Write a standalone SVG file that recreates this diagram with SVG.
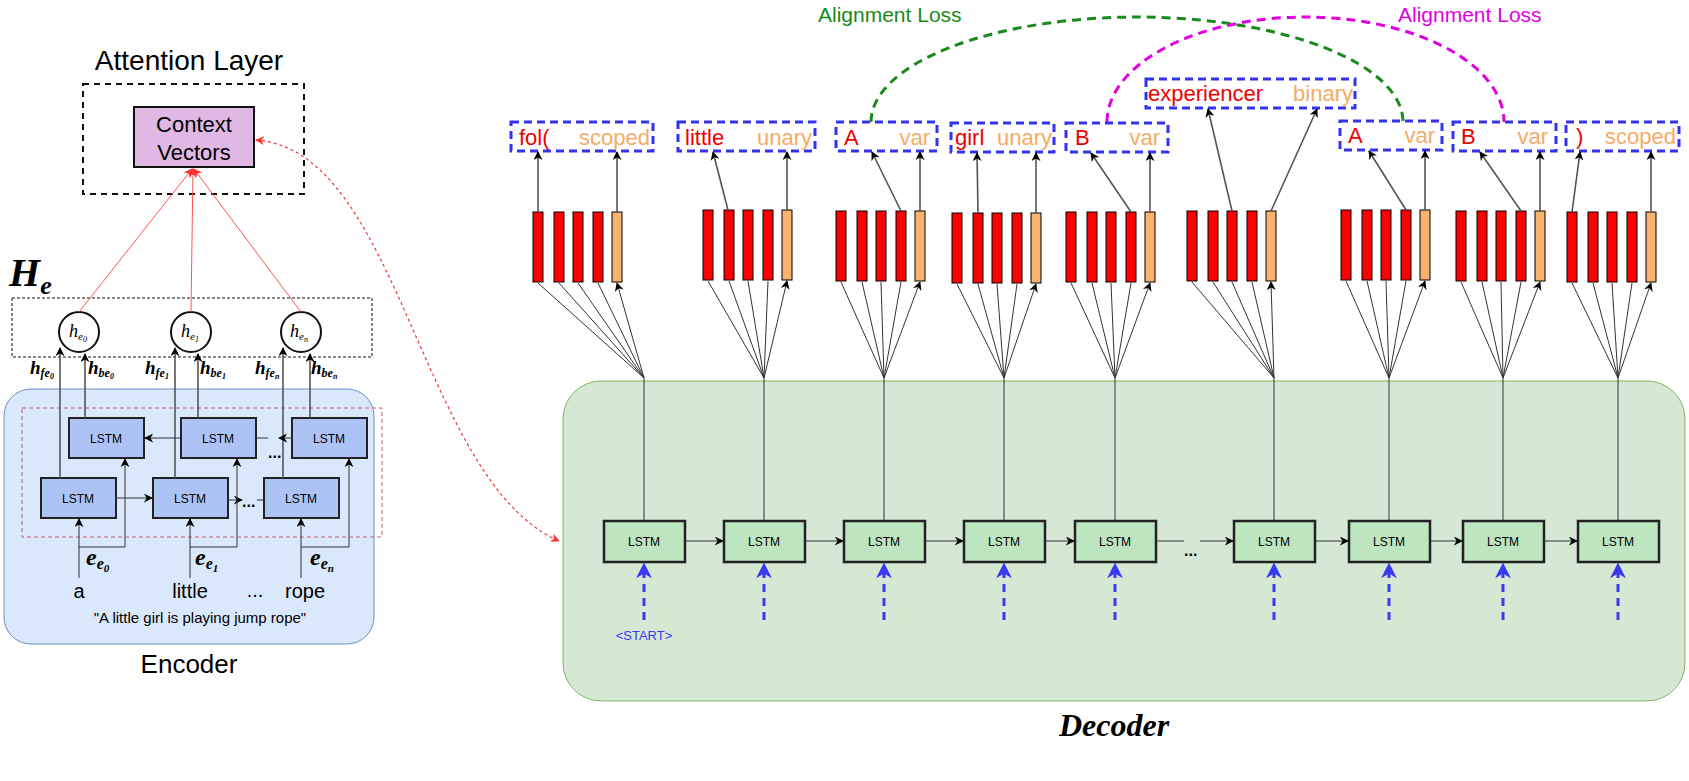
<svg xmlns="http://www.w3.org/2000/svg" width="1689" height="781" viewBox="0 0 1689 781">
<style>
.sans{font-family:"Liberation Sans",Arial,sans-serif}
.ser{font-family:"Liberation Serif","Times New Roman",serif;font-style:italic}
.elstm{fill:#adc3f5;stroke:#222;stroke-width:2}
.dlstm{fill:#bde5c0;stroke:#222;stroke-width:2.5}
.lt{font-family:"Liberation Sans",Arial,sans-serif;font-size:12px;text-anchor:middle}
.ln{stroke:#333;stroke-width:1;fill:none}
.gl{stroke:#555;stroke-width:1.6;fill:none}
.rb{fill:#ff0000;stroke:#000;stroke-width:1}
.ob{fill:#f9b36f;stroke:#000;stroke-width:1}
.lab{fill:none;stroke:#3333ee;stroke-width:3;stroke-dasharray:8 5}
.rw{fill:#ee0000;font-size:22px}
.ow{fill:#f4ac68;font-size:22px;text-anchor:end}
.bd{stroke:#3a3af0;stroke-width:3;stroke-dasharray:8 6;fill:none}
</style>
<defs>
<marker id="ak" viewBox="0 0 10 10" refX="9" refY="5" markerWidth="9" markerHeight="9" markerUnits="userSpaceOnUse" orient="auto"><path d="M0,0 L10,5 L0,10 L3,5 z" fill="#000"/></marker>
<marker id="ar" viewBox="0 0 10 10" refX="9" refY="5" markerWidth="9" markerHeight="9" markerUnits="userSpaceOnUse" orient="auto-start-reverse"><path d="M0,0 L10,5 L0,10 L3,5 z" fill="#f33"/></marker>
<marker id="ab" viewBox="0 0 10 10" refX="9" refY="5" markerWidth="16" markerHeight="16" markerUnits="userSpaceOnUse" orient="auto"><path d="M0,0 L10,5 L0,10 L3,5 z" fill="#3a3af0"/></marker>
</defs>

<g id="attention">
<text x="189" y="70" class="sans" font-size="28" text-anchor="middle">Attention Layer</text>
<rect x="83" y="84" width="221" height="110" fill="none" stroke="#111" stroke-width="2" stroke-dasharray="6 5"/>
<rect x="134" y="107" width="120" height="60" fill="#e0b8e4" stroke="#111" stroke-width="2"/>
<text x="194" y="132" class="sans" font-size="22" text-anchor="middle">Context</text>
<text x="194" y="160" class="sans" font-size="22" text-anchor="middle">Vectors</text>
</g>

<g id="He">
<text x="9" y="286" class="ser" font-size="40" font-weight="bold">H<tspan font-size="26" dy="8">e</tspan></text>
<rect x="12" y="298" width="360" height="59" fill="none" stroke="#111" stroke-width="1" stroke-dasharray="3 2"/>
<g fill="#fff" stroke="#111" stroke-width="2">
<circle cx="79" cy="332" r="20"/><circle cx="191" cy="332" r="20"/><circle cx="301" cy="332" r="20"/>
</g>
<g class="ser" font-size="18">
<text x="69" y="337">h<tspan font-size="11" dy="3">e</tspan><tspan font-size="8" dy="2">0</tspan></text>
<text x="181" y="337">h<tspan font-size="11" dy="3">e</tspan><tspan font-size="8" dy="2">1</tspan></text>
<text x="290" y="337">h<tspan font-size="11" dy="3">e</tspan><tspan font-size="8" dy="2">n</tspan></text>
</g>
<g class="ser" font-size="19" font-weight="bold">
<text x="30" y="374">h<tspan font-size="12" dy="3">fe</tspan><tspan font-size="8" dy="2">0</tspan></text>
<text x="88" y="374">h<tspan font-size="12" dy="3">be</tspan><tspan font-size="8" dy="2">0</tspan></text>
<text x="145" y="374">h<tspan font-size="12" dy="3">fe</tspan><tspan font-size="8" dy="2">1</tspan></text>
<text x="200" y="374">h<tspan font-size="12" dy="3">be</tspan><tspan font-size="8" dy="2">1</tspan></text>
<text x="255" y="374">h<tspan font-size="12" dy="3">fe</tspan><tspan font-size="8" dy="2">n</tspan></text>
<text x="311" y="374">h<tspan font-size="12" dy="3">be</tspan><tspan font-size="8" dy="2">n</tspan></text>
</g>
</g>

<g id="encoder">
<rect x="4" y="389" width="370" height="255" rx="27" fill="#dae8fc" stroke="#6c8ebf" stroke-width="1"/>
<rect x="22" y="408" width="360" height="129" fill="none" stroke="#c06070" stroke-width="1" stroke-dasharray="4 3"/>
<rect class="elstm" x="69" y="418" width="75" height="40"/><text class="lt" x="106" y="443">LSTM</text>
<rect class="elstm" x="181" y="418" width="75" height="40"/><text class="lt" x="218" y="443">LSTM</text>
<rect class="elstm" x="292" y="418" width="75" height="40"/><text class="lt" x="329" y="443">LSTM</text>
<rect class="elstm" x="41" y="478" width="75" height="40"/><text class="lt" x="78" y="503">LSTM</text>
<rect class="elstm" x="153" y="478" width="75" height="40"/><text class="lt" x="190" y="503">LSTM</text>
<rect class="elstm" x="264" y="478" width="75" height="40"/><text class="lt" x="301" y="503">LSTM</text>
<text x="242" y="507" class="sans" font-size="16" font-weight="bold">...</text>
<text x="268" y="458" class="sans" font-size="16" font-weight="bold">...</text>
<g class="ser" font-size="24" font-weight="bold">
<text x="86" y="565">e<tspan font-size="16" dy="4">e</tspan><tspan font-size="11" dy="3">0</tspan></text>
<text x="195" y="565">e<tspan font-size="16" dy="4">e</tspan><tspan font-size="11" dy="3">1</tspan></text>
<text x="310" y="565">e<tspan font-size="16" dy="4">e</tspan><tspan font-size="11" dy="3">n</tspan></text>
</g>
<g class="sans" font-size="20" text-anchor="middle">
<text x="79" y="598">a</text><text x="190" y="598">little</text><text x="255" y="597">...</text><text x="305" y="598">rope</text>
</g>
<text x="200" y="623" class="sans" font-size="15" text-anchor="middle">"A little girl is playing jump rope"</text>
<text x="189" y="673" class="sans" font-size="26" text-anchor="middle">Encoder</text>
</g>

<g id="decoder">
<rect x="563" y="381" width="1122" height="320" rx="38" fill="#d5e8d4" stroke="#82b366" stroke-width="1"/>
<rect class="dlstm" x="604" y="521" width="81" height="41"/><text class="lt" x="644" y="546">LSTM</text>
<rect class="dlstm" x="724" y="521" width="81" height="41"/><text class="lt" x="764" y="546">LSTM</text>
<rect class="dlstm" x="844" y="521" width="81" height="41"/><text class="lt" x="884" y="546">LSTM</text>
<rect class="dlstm" x="964" y="521" width="81" height="41"/><text class="lt" x="1004" y="546">LSTM</text>
<rect class="dlstm" x="1075" y="521" width="81" height="41"/><text class="lt" x="1115" y="546">LSTM</text>
<rect class="dlstm" x="1234" y="521" width="81" height="41"/><text class="lt" x="1274" y="546">LSTM</text>
<rect class="dlstm" x="1349" y="521" width="81" height="41"/><text class="lt" x="1389" y="546">LSTM</text>
<rect class="dlstm" x="1463" y="521" width="81" height="41"/><text class="lt" x="1503" y="546">LSTM</text>
<rect class="dlstm" x="1578" y="521" width="81" height="41"/><text class="lt" x="1618" y="546">LSTM</text>
<text x="1184" y="556" class="sans" font-size="16" font-weight="bold">...</text>
<text x="644" y="640" class="sans" font-size="13" fill="#3a3af0" text-anchor="middle">&lt;START&gt;</text>
<text x="1114" y="736" class="ser" font-size="32" font-weight="bold" text-anchor="middle">Decoder</text>
</g>

<g id="bars">
<g transform="translate(533,0)"><rect class="rb" x="0" y="212" width="10" height="70"/><rect class="rb" x="21" y="212" width="10" height="70"/><rect class="rb" x="40" y="212" width="10" height="70"/><rect class="rb" x="60" y="212" width="10" height="70"/><rect class="ob" x="79" y="212" width="10" height="70"/></g>
<g transform="translate(703,-2)"><rect class="rb" x="0" y="212" width="10" height="70"/><rect class="rb" x="21" y="212" width="10" height="70"/><rect class="rb" x="40" y="212" width="10" height="70"/><rect class="rb" x="60" y="212" width="10" height="70"/><rect class="ob" x="79" y="212" width="10" height="70"/></g>
<g transform="translate(836,-1)"><rect class="rb" x="0" y="212" width="10" height="70"/><rect class="rb" x="21" y="212" width="10" height="70"/><rect class="rb" x="40" y="212" width="10" height="70"/><rect class="rb" x="60" y="212" width="10" height="70"/><rect class="ob" x="79" y="212" width="10" height="70"/></g>
<g transform="translate(952,1)"><rect class="rb" x="0" y="212" width="10" height="70"/><rect class="rb" x="21" y="212" width="10" height="70"/><rect class="rb" x="40" y="212" width="10" height="70"/><rect class="rb" x="60" y="212" width="10" height="70"/><rect class="ob" x="79" y="212" width="10" height="70"/></g>
<g transform="translate(1066,0)"><rect class="rb" x="0" y="212" width="10" height="70"/><rect class="rb" x="21" y="212" width="10" height="70"/><rect class="rb" x="40" y="212" width="10" height="70"/><rect class="rb" x="60" y="212" width="10" height="70"/><rect class="ob" x="79" y="212" width="10" height="70"/></g>
<g transform="translate(1187,-1)"><rect class="rb" x="0" y="212" width="10" height="70"/><rect class="rb" x="21" y="212" width="10" height="70"/><rect class="rb" x="40" y="212" width="10" height="70"/><rect class="rb" x="60" y="212" width="10" height="70"/><rect class="ob" x="79" y="212" width="10" height="70"/></g>
<g transform="translate(1341,-2)"><rect class="rb" x="0" y="212" width="10" height="70"/><rect class="rb" x="21" y="212" width="10" height="70"/><rect class="rb" x="40" y="212" width="10" height="70"/><rect class="rb" x="60" y="212" width="10" height="70"/><rect class="ob" x="79" y="212" width="10" height="70"/></g>
<g transform="translate(1456,-1)"><rect class="rb" x="0" y="212" width="10" height="70"/><rect class="rb" x="21" y="212" width="10" height="70"/><rect class="rb" x="40" y="212" width="10" height="70"/><rect class="rb" x="60" y="212" width="10" height="70"/><rect class="ob" x="79" y="212" width="10" height="70"/></g>
<g transform="translate(1567,0)"><rect class="rb" x="0" y="212" width="10" height="70"/><rect class="rb" x="21" y="212" width="10" height="70"/><rect class="rb" x="40" y="212" width="10" height="70"/><rect class="rb" x="60" y="212" width="10" height="70"/><rect class="ob" x="79" y="212" width="10" height="70"/></g>
</g>

<g id="labels" class="sans">
<rect class="lab" x="511" y="122" width="142" height="29"/><text class="rw" x="519" y="145">fol(</text><text class="ow" x="650" y="145">scoped</text>
<rect class="lab" x="678" y="122" width="137" height="29"/><text class="rw" x="685" y="145">little</text><text class="ow" x="812" y="145">unary</text>
<rect class="lab" x="836" y="122" width="101" height="29"/><text class="rw" x="844" y="145">A</text><text class="ow" x="930" y="145">var</text>
<rect class="lab" x="951" y="123" width="103" height="29"/><text class="rw" x="955" y="145">girl</text><text class="ow" x="1052" y="145">unary</text>
<rect class="lab" x="1066" y="123" width="102" height="29"/><text class="rw" x="1075" y="145">B</text><text class="ow" x="1160" y="145">var</text>
<rect class="lab" x="1146" y="79" width="209" height="29"/><text class="rw" x="1148" y="101">experiencer</text><text class="ow" x="1353" y="101">binary</text>
<rect class="lab" x="1340" y="121" width="102" height="29"/><text class="rw" x="1348" y="143">A</text><text class="ow" x="1435" y="143">var</text>
<rect class="lab" x="1453" y="122" width="103" height="29"/><text class="rw" x="1461" y="144">B</text><text class="ow" x="1548" y="144">var</text>
<rect class="lab" x="1566" y="122" width="113" height="29"/><text class="rw" x="1576" y="144">)</text><text class="ow" x="1676" y="144">scoped</text>
<text x="818" y="22" fill="#1a8a1a" font-size="21">Alignment Loss</text>
<text x="1398" y="22" fill="#e000e0" font-size="21">Alignment Loss</text>
</g>

<g id="connectors">
<path d="M871,122 A266,105 0 0 1 1403,122" fill="none" stroke="#1a8a1a" stroke-width="3" stroke-dasharray="9 6"/>
<path d="M1107,122 A198.5,105 0 0 1 1504,122" fill="none" stroke="#e000e0" stroke-width="3" stroke-dasharray="9 6"/>
<path d="M256,140 C400,150 420,480 559,541" fill="none" stroke="#ee3333" stroke-width="1.2" stroke-dasharray="3 3" marker-start="url(#ar)" marker-end="url(#ar)"/>
<g stroke="#f55" stroke-width="1" fill="none" marker-end="url(#ar)">
<line x1="79" y1="312" x2="192" y2="169"/><line x1="191" y1="312" x2="193" y2="169"/><line x1="301" y1="312" x2="194" y2="169"/>
</g>
<g class="gl" marker-end="url(#ak)">
<line x1="60" y1="478" x2="60" y2="348"/><line x1="85" y1="418" x2="85" y2="354"/>
<line x1="175" y1="478" x2="175" y2="348"/><line x1="198" y1="418" x2="198" y2="354"/>
<line x1="283" y1="478" x2="283" y2="348"/><line x1="310" y1="418" x2="310" y2="354"/>
</g>
<g class="ln" stroke-width="1.4" marker-end="url(#ak)">
<line x1="116" y1="498" x2="152" y2="498"/><line x1="228" y1="500" x2="242" y2="500"/>
<line x1="181" y1="438" x2="145" y2="438"/><line x1="292" y1="438" x2="279" y2="438"/>
<line x1="79" y1="578" x2="79" y2="519"/><polyline points="79,547 125,547 125,459"/>
<line x1="190" y1="578" x2="190" y2="519"/><polyline points="190,547 237,547 237,459"/>
<line x1="301" y1="578" x2="301" y2="519"/><polyline points="301,547 349,547 349,459"/>
</g>
<g class="ln" stroke-width="1.4"><line x1="257" y1="500" x2="264" y2="500"/><line x1="256" y1="438" x2="268" y2="438"/></g>
<g class="ln" stroke-width="1.4" marker-end="url(#ak)">
<line x1="685" y1="541" x2="723" y2="541"/><line x1="805" y1="541" x2="843" y2="541"/><line x1="925" y1="541" x2="963" y2="541"/><line x1="1045" y1="541" x2="1074" y2="541"/>
<line x1="1200" y1="541" x2="1233" y2="541"/><line x1="1315" y1="541" x2="1348" y2="541"/><line x1="1430" y1="541" x2="1462" y2="541"/><line x1="1544" y1="541" x2="1577" y2="541"/>
</g>
<line class="ln" stroke-width="1.4" x1="1156" y1="541" x2="1184" y2="541"/>
<g class="ln" stroke-width="1.3">
<line x1="644" y1="521" x2="644" y2="378"/><line x1="764" y1="521" x2="764" y2="378"/><line x1="884" y1="521" x2="884" y2="378"/><line x1="1004" y1="521" x2="1004" y2="378"/><line x1="1115" y1="521" x2="1115" y2="378"/><line x1="1274" y1="521" x2="1274" y2="378"/><line x1="1389" y1="521" x2="1389" y2="378"/><line x1="1503" y1="521" x2="1503" y2="378"/><line x1="1618" y1="521" x2="1618" y2="378"/>
</g>
<g class="ln" marker-end="url(#ak)">
<path d="M644,378L538,283M644,378L559,283M644,378L578,283M644,378L598,283M644,378L617,283"/>
<path d="M764,378L708,281M764,378L729,281M764,378L748,281M764,378L768,281M764,378L787,281"/>
<path d="M884,378L841,282M884,378L862,282M884,378L881,282M884,378L901,282M884,378L920,282"/>
<path d="M1004,378L957,284M1004,378L978,284M1004,378L997,284M1004,378L1017,284M1004,378L1036,284"/>
<path d="M1115,378L1071,283M1115,378L1092,283M1115,378L1111,283M1115,378L1131,283M1115,378L1150,283"/>
<path d="M1274,378L1192,282M1274,378L1213,282M1274,378L1232,282M1274,378L1252,282M1274,378L1271,282"/>
<path d="M1389,378L1346,281M1389,378L1367,281M1389,378L1386,281M1389,378L1406,281M1389,378L1425,281"/>
<path d="M1503,378L1461,282M1503,378L1482,282M1503,378L1501,282M1503,378L1521,282M1503,378L1540,282"/>
<path d="M1618,378L1572,283M1618,378L1593,283M1618,378L1612,283M1618,378L1632,283M1618,378L1651,283"/>
</g>
<g class="gl" stroke-width="1.3" marker-end="url(#ak)">
<line x1="538" y1="212" x2="538" y2="152"/><line x1="617" y1="212" x2="617" y2="152"/>
<line x1="728" y1="210" x2="713" y2="152"/><line x1="787" y1="210" x2="787" y2="152"/>
<line x1="901" y1="211" x2="872" y2="152"/><line x1="920" y1="211" x2="920" y2="152"/>
<line x1="978" y1="213" x2="977" y2="153"/><line x1="1036" y1="213" x2="1036" y2="153"/>
<line x1="1131" y1="212" x2="1091" y2="153"/><line x1="1150" y1="212" x2="1150" y2="153"/>
<line x1="1232" y1="211" x2="1208" y2="109"/><line x1="1271" y1="211" x2="1317" y2="109"/>
<line x1="1406" y1="210" x2="1369" y2="151"/><line x1="1425" y1="210" x2="1425" y2="151"/>
<line x1="1521" y1="211" x2="1480" y2="152"/><line x1="1540" y1="211" x2="1540" y2="152"/>
<line x1="1572" y1="212" x2="1580" y2="152"/><line x1="1651" y1="212" x2="1651" y2="152"/>
</g>
<g class="bd" marker-end="url(#ab)">
<line x1="644" y1="620" x2="644" y2="564"/><line x1="764" y1="620" x2="764" y2="564"/><line x1="884" y1="620" x2="884" y2="564"/><line x1="1004" y1="620" x2="1004" y2="564"/><line x1="1115" y1="620" x2="1115" y2="564"/><line x1="1274" y1="620" x2="1274" y2="564"/><line x1="1389" y1="620" x2="1389" y2="564"/><line x1="1503" y1="620" x2="1503" y2="564"/><line x1="1618" y1="620" x2="1618" y2="564"/>
</g>
</g>
</svg>
